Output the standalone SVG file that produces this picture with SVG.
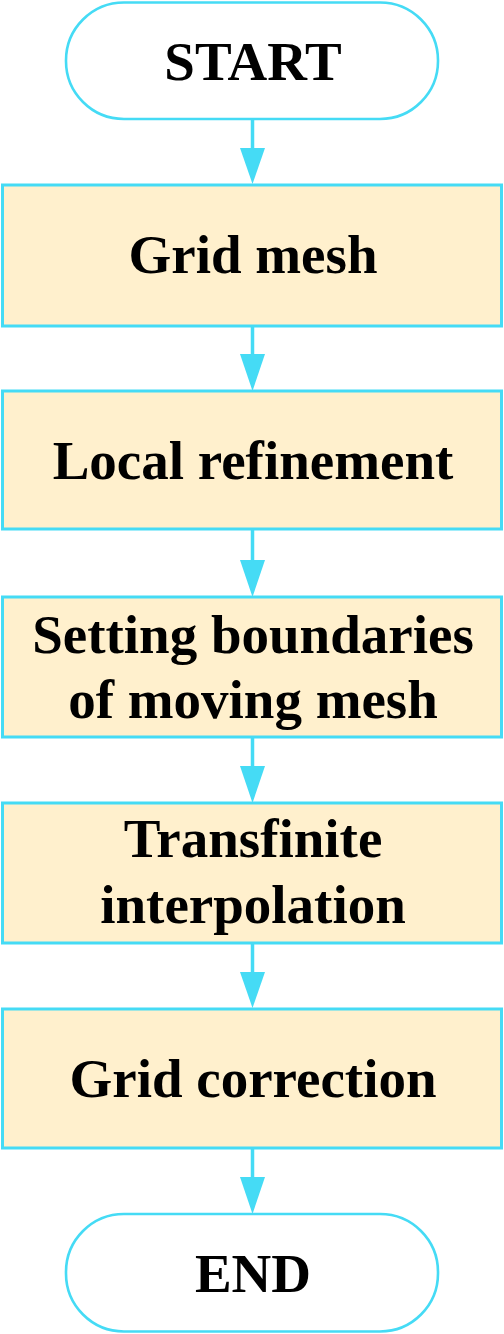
<svg xmlns="http://www.w3.org/2000/svg" width="504" height="1334" viewBox="0 0 504 1334">
<defs>
<style>
.term{fill:#ffffff;stroke:#45dbf5;stroke-width:2.6}
.box{fill:#fff0cd;stroke:#45dbf5;stroke-width:3}
.lbl{font-family:"Liberation Serif","Times New Roman",serif;font-weight:bold;font-size:55px;fill:#000;text-anchor:middle}
.conn{stroke:#45dbf5;stroke-width:3.5;fill:none}
.head{fill:#45dbf5}
</style>
</defs>
<g id="connectors">
<line class="conn" x1="252.5" y1="119" x2="252.5" y2="150"/>
<polygon class="head" points="240,148 265,148 252.5,184"/>
<line class="conn" x1="252.5" y1="326" x2="252.5" y2="356"/>
<polygon class="head" points="240,354 265,354 252.5,391"/>
<line class="conn" x1="252.5" y1="529" x2="252.5" y2="562"/>
<polygon class="head" points="240,560 265,560 252.5,597"/>
<line class="conn" x1="252.5" y1="737" x2="252.5" y2="768"/>
<polygon class="head" points="240,766 265,766 252.5,803"/>
<line class="conn" x1="252.5" y1="943" x2="252.5" y2="974"/>
<polygon class="head" points="240,972 265,972 252.5,1008"/>
<line class="conn" x1="252.5" y1="1148" x2="252.5" y2="1179"/>
<polygon class="head" points="240,1177 265,1177 252.5,1214"/>
</g>
<g id="start">
<rect class="term" x="66" y="2.5" width="372" height="116.5" rx="58" ry="58"/>
<text class="lbl" x="253" y="80">START</text>
</g>
<g id="grid-mesh">
<rect class="box" x="2.5" y="185" width="499" height="141"/>
<text class="lbl" x="253" y="273">Grid mesh</text>
</g>
<g id="local-refinement">
<rect class="box" x="2.5" y="391" width="499" height="138"/>
<text class="lbl" x="253" y="479">Local refinement</text>
</g>
<g id="setting-boundaries">
<rect class="box" x="2.5" y="597" width="499" height="140"/>
<text class="lbl" x="253" y="653">Setting boundaries</text>
<text class="lbl" x="253" y="718">of moving mesh</text>
</g>
<g id="transfinite">
<rect class="box" x="2.5" y="803" width="499" height="140"/>
<text class="lbl" x="253" y="857">Transfinite</text>
<text class="lbl" x="253" y="923">interpolation</text>
</g>
<g id="grid-correction">
<rect class="box" x="2.5" y="1009" width="499" height="139"/>
<text class="lbl" x="253" y="1097">Grid correction</text>
</g>
<g id="end">
<rect class="term" x="66" y="1214" width="372" height="117.5" rx="58" ry="58"/>
<text class="lbl" x="253" y="1292">END</text>
</g>
</svg>
